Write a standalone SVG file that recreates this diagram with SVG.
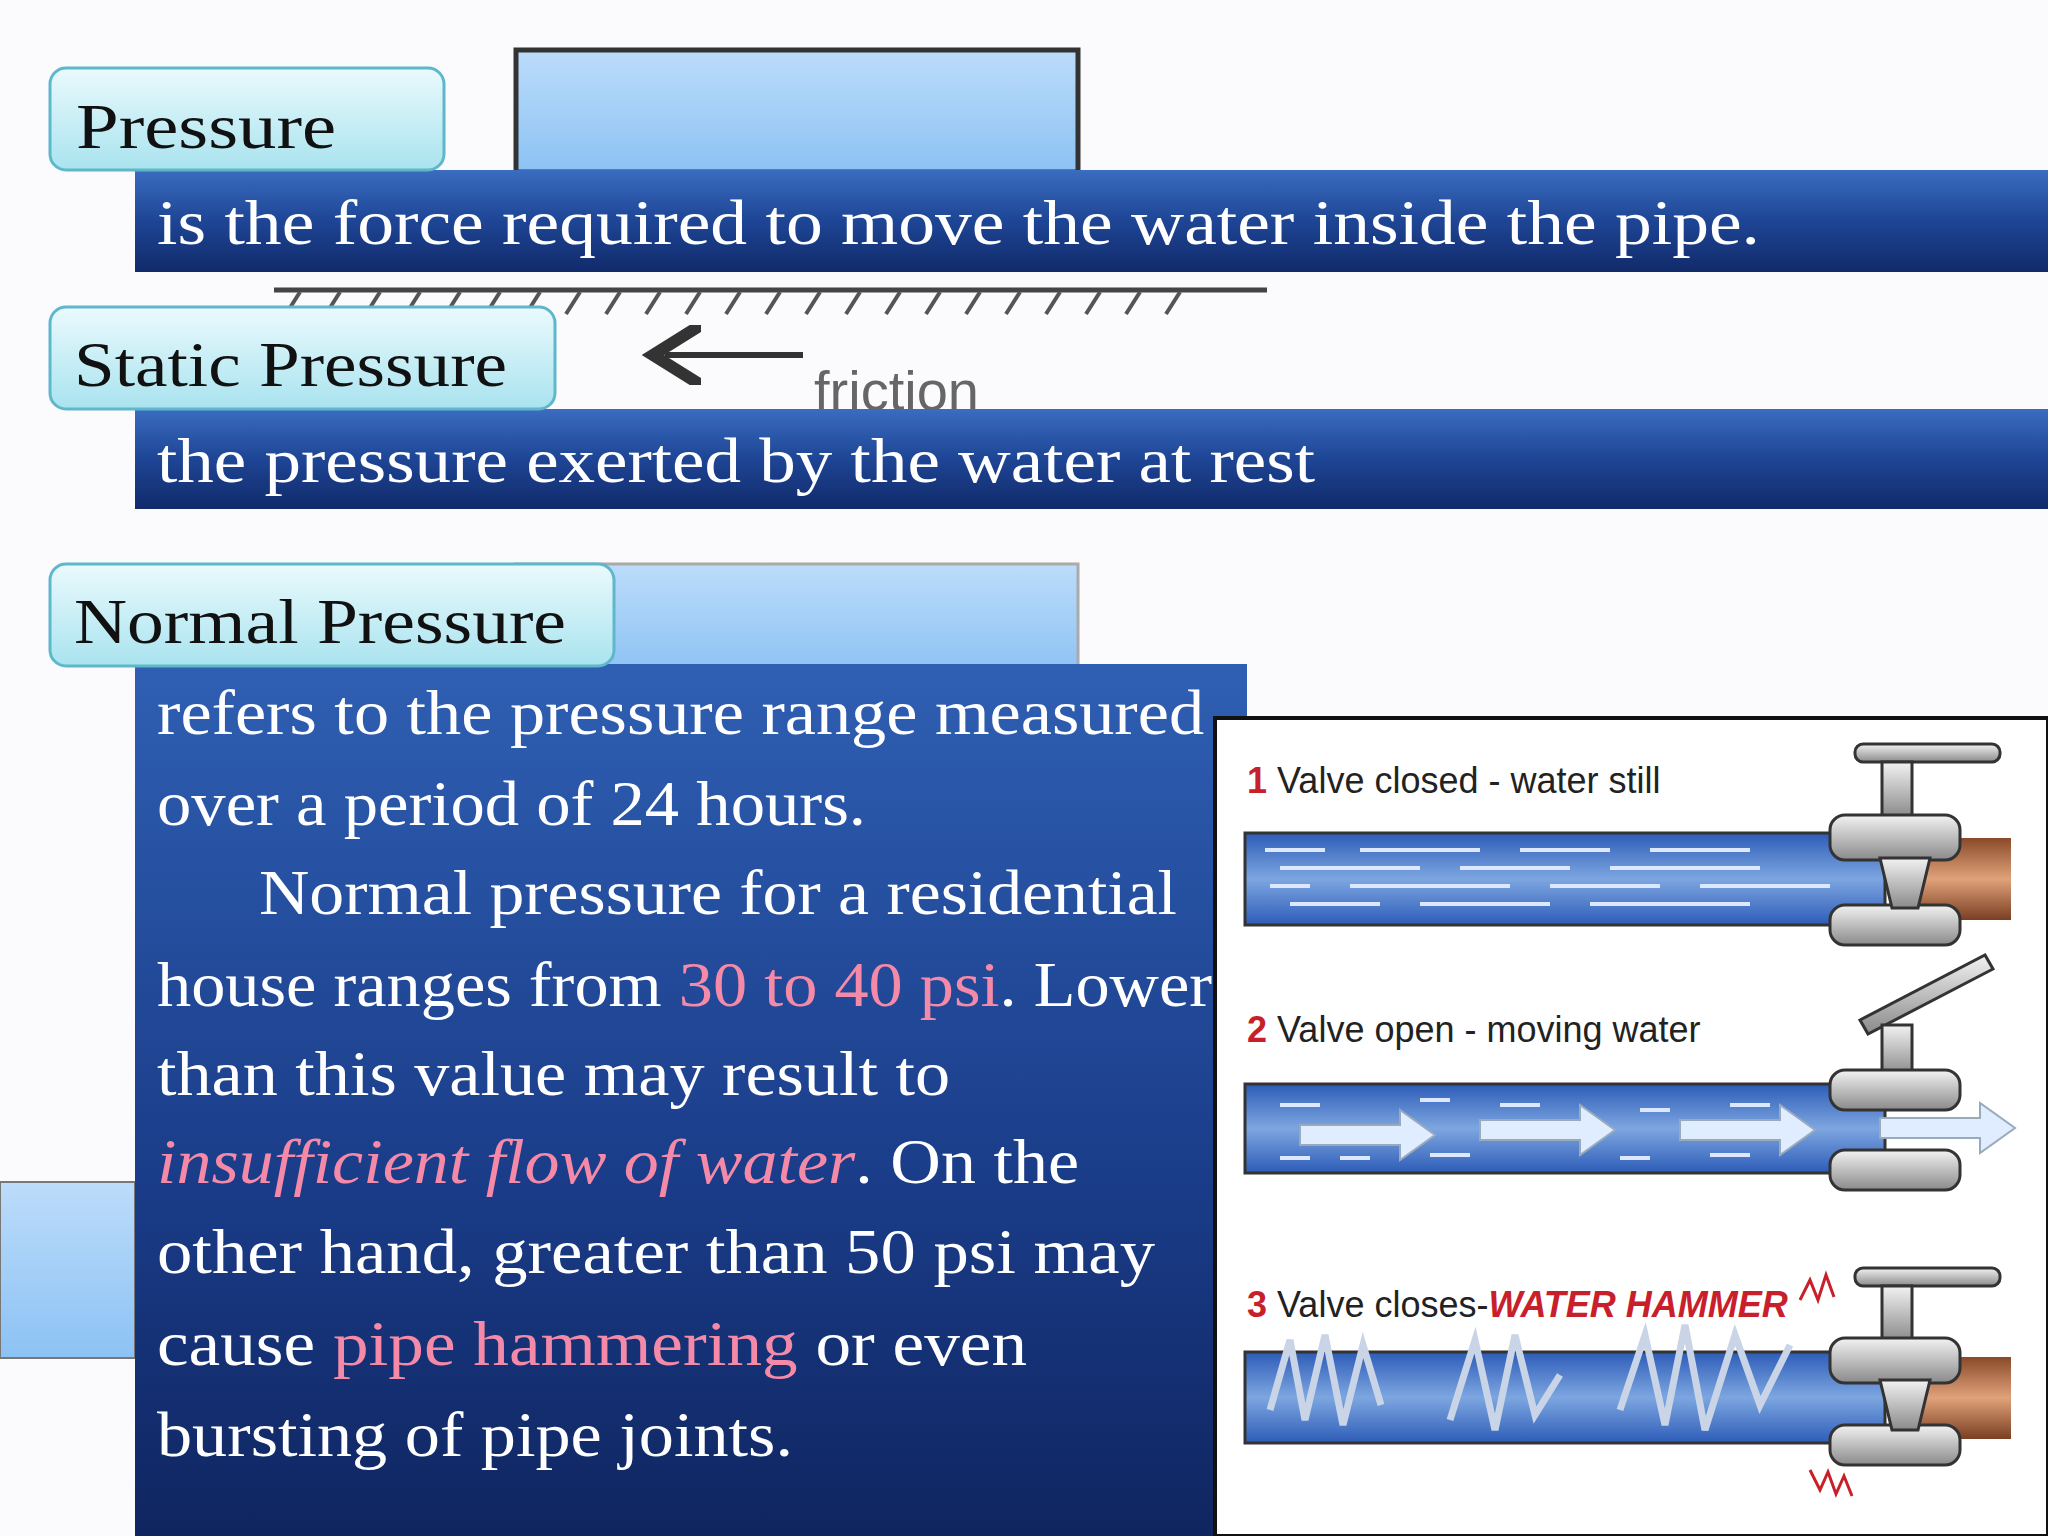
<svg xmlns="http://www.w3.org/2000/svg" width="2048" height="1536" viewBox="0 0 2048 1536">
<defs>
<linearGradient id="bar" x1="0" y1="0" x2="0" y2="1"><stop offset="0" stop-color="#3a6cc0"/><stop offset="0.5" stop-color="#1e4595"/><stop offset="1" stop-color="#112a6a"/></linearGradient>
<linearGradient id="big" x1="0" y1="0" x2="0" y2="1"><stop offset="0" stop-color="#2f5fb3"/><stop offset="0.6" stop-color="#1a3c88"/><stop offset="1" stop-color="#0f2560"/></linearGradient>
<linearGradient id="lbl" x1="0" y1="0" x2="0" y2="1"><stop offset="0" stop-color="#eafafd"/><stop offset="1" stop-color="#a9e3ef"/></linearGradient>
<linearGradient id="lb" x1="0" y1="0" x2="0" y2="1"><stop offset="0" stop-color="#bcdcfa"/><stop offset="1" stop-color="#8cc2f4"/></linearGradient>
<linearGradient id="pipe" x1="0" y1="0" x2="0" y2="1"><stop offset="0" stop-color="#2d5cb8"/><stop offset="0.5" stop-color="#7da6e0"/><stop offset="1" stop-color="#2d5cb8"/></linearGradient>
<linearGradient id="cu" x1="0" y1="0" x2="0" y2="1"><stop offset="0" stop-color="#8a4a2a"/><stop offset="0.5" stop-color="#e0a27a"/><stop offset="1" stop-color="#7a3e22"/></linearGradient>
<linearGradient id="steel" x1="0" y1="0" x2="0" y2="1"><stop offset="0" stop-color="#f2f2f2"/><stop offset="1" stop-color="#8a8a8a"/></linearGradient>
<marker id="ah" markerWidth="10" markerHeight="10" refX="6" refY="5" orient="auto"><path d="M0,0 L8,5 L0,10" fill="none" stroke="#333" stroke-width="2"/></marker>
</defs>
<style>
.lt{font-family:"Liberation Serif",serif;font-size:64px;fill:#111}
.bt{font-family:"Liberation Serif",serif;font-size:64px;fill:#fff}
.pk{fill:#f58aa8}
.cap{font-family:"Liberation Sans",sans-serif;font-size:36px;fill:#222}
.num{font-weight:bold;fill:#c8202a}
.label{fill:url(#lbl);stroke:#5fb7cc;stroke-width:3}
.wl{stroke:#dbe8ff;stroke-width:4}
</style>
<rect width="2048" height="1536" fill="#fbfbfd"/>
<g id="background-sketch">
<rect x="516" y="50" width="562" height="122" fill="url(#lb)" stroke="#333" stroke-width="5"/>
<line x1="274" y1="290" x2="1267" y2="290" stroke="#444" stroke-width="5"/>
<path d="M300,292 l-14,22 M340,292 l-14,22 M380,292 l-14,22 M420,292 l-14,22 M460,292 l-14,22 M500,292 l-14,22 M540,292 l-14,22 M580,292 l-14,22 M620,292 l-14,22 M660,292 l-14,22 M700,292 l-14,22 M740,292 l-14,22 M780,292 l-14,22 M820,292 l-14,22 M860,292 l-14,22 M900,292 l-14,22 M940,292 l-14,22 M980,292 l-14,22 M1020,292 l-14,22 M1060,292 l-14,22 M1100,292 l-14,22 M1140,292 l-14,22 M1180,292 l-14,22" stroke="#555" stroke-width="4"/>
<line x1="803" y1="355" x2="665" y2="355" stroke="#333" stroke-width="6" marker-end="url(#ah)"/>
<text x="814" y="410" font-family="Liberation Sans,sans-serif" font-size="56" fill="#666">friction</text>
<rect x="516" y="564" width="562" height="110" fill="url(#lb)" stroke="#aaa" stroke-width="3"/>
<rect x="0" y="1182" width="135" height="176" fill="url(#lb)" stroke="#777" stroke-width="2"/>
</g>
<g id="bar1"><rect x="135" y="170" width="1913" height="102" fill="url(#bar)"/><text class="bt" x="157" y="244" textLength="1603" lengthAdjust="spacingAndGlyphs">is the force required to move the water  inside the pipe.</text></g>
<g id="bar2"><rect x="135" y="409" width="1913" height="100" fill="url(#bar)"/><text class="bt" x="157" y="482" textLength="1158" lengthAdjust="spacingAndGlyphs">the pressure exerted by the water at rest</text></g>
<g id="normal-box"><rect x="135" y="664" width="1112" height="872" fill="url(#big)"/>
<text class="bt" x="157" y="734" textLength="1047" lengthAdjust="spacingAndGlyphs">refers to the pressure range measured</text>
<text class="bt" x="157" y="825" textLength="709" lengthAdjust="spacingAndGlyphs">over a period of 24 hours.</text>
<text class="bt" x="259" y="914" textLength="918" lengthAdjust="spacingAndGlyphs">Normal pressure for a residential</text>
<text class="bt" x="157" y="1006" textLength="1055" lengthAdjust="spacingAndGlyphs">house ranges from <tspan class="pk">30 to 40 psi</tspan>. Lower</text>
<text class="bt" x="157" y="1095" textLength="793" lengthAdjust="spacingAndGlyphs">than this value may result to</text>
<text class="bt" x="157" y="1183" textLength="922" lengthAdjust="spacingAndGlyphs"><tspan class="pk" font-style="italic">insufficient flow of water</tspan>. On the</text>
<text class="bt" x="157" y="1273" textLength="998" lengthAdjust="spacingAndGlyphs">other hand, greater than 50 psi may</text>
<text class="bt" x="157" y="1365" textLength="870" lengthAdjust="spacingAndGlyphs">cause  <tspan class="pk">pipe hammering</tspan> or even</text>
<text class="bt" x="157" y="1456" textLength="636" lengthAdjust="spacingAndGlyphs">bursting of pipe joints.</text></g>
<g id="label-pressure"><rect class="label" x="50" y="68" width="394" height="102" rx="16"/><text class="lt" x="76" y="148" textLength="260" lengthAdjust="spacingAndGlyphs">Pressure</text></g>
<g id="label-static"><rect class="label" x="50" y="307" width="505" height="102" rx="16"/><text class="lt" x="74" y="386" textLength="433" lengthAdjust="spacingAndGlyphs">Static Pressure</text></g>
<g id="label-normal"><rect class="label" x="50" y="564" width="564" height="102" rx="16"/><text class="lt" x="74" y="643" textLength="492" lengthAdjust="spacingAndGlyphs">Normal Pressure</text></g>
<g id="valve-panel">
<rect x="1215" y="718" width="833" height="818" fill="#fff" stroke="#111" stroke-width="4"/>
<text class="cap" x="1247" y="793"><tspan class="num">1</tspan> Valve closed - water still</text>
<text class="cap" x="1247" y="1042"><tspan class="num">2</tspan> Valve open - moving water</text>
<text class="cap" x="1247" y="1317"><tspan class="num">3</tspan> Valve closes-<tspan font-style="italic" font-weight="bold" fill="#c8202a">WATER HAMMER</tspan></text>
<g id="pipe1"><rect x="1245" y="833" width="640" height="92" fill="url(#pipe)" stroke="#333" stroke-width="3"/>
<path class="wl" d="M1265,850h60M1360,850h120M1520,850h90M1650,850h100M1280,868h140M1460,868h110M1610,868h150M1270,886h40M1350,886h160M1550,886h110M1700,886h130M1290,904h90M1420,904h130M1590,904h160"/>
<rect x="1907" y="838" width="104" height="82" fill="url(#cu)"/>
</g>
<g id="pipe2"><rect x="1245" y="1084" width="640" height="89" fill="url(#pipe)" stroke="#333" stroke-width="3"/>
<path d="M1300,1125h100v-15l35,25l-35,25v-15h-100z M1480,1120h100v-15l35,25l-35,25v-15h-100z M1680,1120h100v-15l35,25l-35,25v-15h-100z M1880,1118h100v-15l35,25l-35,25v-15h-100z" fill="#e0ecff" stroke="#9ab" stroke-width="2"/>
<path class="wl" d="M1280,1105h40M1420,1100h30M1500,1105h40M1640,1110h30M1730,1105h40M1280,1158h30M1340,1158h30M1430,1155h40M1620,1158h30M1710,1155h40"/>
</g>
<g id="pipe3"><rect x="1245" y="1352" width="640" height="91" fill="url(#pipe)" stroke="#333" stroke-width="3"/>
<path d="M1270,1410l20,-70l15,80l20,-85l18,90l20,-80l18,60 M1450,1420l25,-80l20,90l20,-95l20,80l25,-40 M1620,1410l25,-75l20,90l20,-100l20,105l30,-95l25,70l30,-60" fill="none" stroke="#c9d4e6" stroke-width="7"/>
<rect x="1907" y="1357" width="104" height="82" fill="url(#cu)"/>
<path d="M1800,1300l10,-20l8,20l8,-25l8,22 M1810,1470l10,20l8,-18l8,22l8,-18l8,20" fill="none" stroke="#c8202a" stroke-width="3"/>
</g>
<g id="valves" fill="url(#steel)" stroke="#333" stroke-width="3">
<rect x="1855" y="744" width="145" height="18" rx="8"/><rect x="1882" y="762" width="30" height="55"/><rect x="1830" y="815" width="130" height="45" rx="15"/><rect x="1830" y="905" width="130" height="40" rx="15"/><path d="M1880,858h50l-12,50h-26z"/>
<path d="M1860,1020l125,-65l8,14l-125,65z"/><rect x="1882" y="1025" width="30" height="50"/><rect x="1830" y="1070" width="130" height="40" rx="15"/><rect x="1830" y="1150" width="130" height="40" rx="15"/>
<rect x="1855" y="1268" width="145" height="18" rx="8"/><rect x="1882" y="1286" width="30" height="55"/><rect x="1830" y="1338" width="130" height="45" rx="15"/><rect x="1830" y="1425" width="130" height="40" rx="15"/><path d="M1880,1380h50l-12,50h-26z"/>
</g>
</g>
</svg>
